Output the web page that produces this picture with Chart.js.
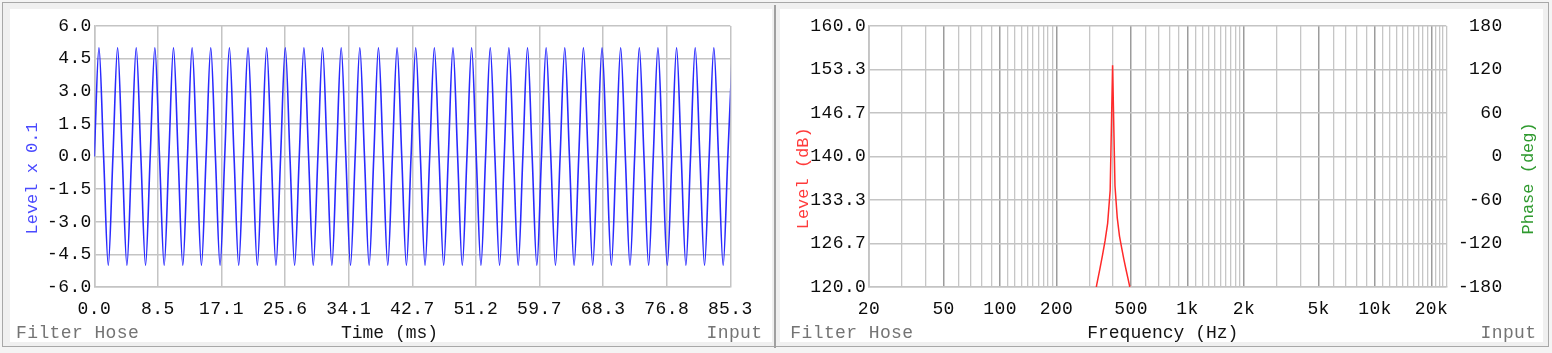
<!DOCTYPE html>
<html><head><meta charset="utf-8">
<script src="https://cdn.jsdelivr.net/npm/chart.js@4.4.1/dist/chart.umd.min.js"></script>
<style>
html,body{margin:0;padding:0;background:#f4f4f4;width:1552px;height:353px;overflow:hidden;}
#frame{position:absolute;left:2px;top:2px;width:1545px;height:343px;border:1px solid #a8a8a8;background:#f0f0f0;}
#sep{position:absolute;left:774px;top:5px;width:2px;height:343px;background:#a0a0a0;}
canvas{position:absolute;background:#fff;}
#c1{left:10px;top:9px;}
#c2{left:780px;top:9px;}
</style></head>
<body>
<div id="frame"></div><div id="sep"></div>
<canvas id="c1" width="762" height="333"></canvas>
<canvas id="c2" width="763" height="333"></canvas>
<script>
// ---------- data ----------
const timeMaxMs = 85.3333;
const timeTicks = [0, 8.5333, 17.0667, 25.6, 34.1333, 42.6667, 51.2, 59.7333, 68.2667, 76.8, 85.3333];
const levelTicks = [-6, -4.5, -3, -1.5, 0, 1.5, 3, 4.5, 6];
const sampleStepMs = 0.625;               // quarter-period spacing of read points
const waveLevel = [
  0, 5, 0, -5,  0, 5, 0, -5,  0, 5, 0, -5,  0, 5, 0, -5,
  0, 5, 0, -5,  0, 5, 0, -5,  0, 5, 0, -5,  0, 5, 0, -5,
  0, 5, 0, -5,  0, 5, 0, -5,  0, 5, 0, -5,  0, 5, 0, -5,
  0, 5, 0, -5,  0, 5, 0, -5,  0, 5, 0, -5,  0, 5, 0, -5,
  0, 5, 0, -5,  0, 5, 0, -5,  0, 5, 0, -5,  0, 5, 0, -5,
  0, 5, 0, -5,  0, 5, 0, -5,  0, 5, 0, -5,  0, 5, 0, -5,
  0, 5, 0, -5,  0, 5, 0, -5,  0, 5, 0, -5,  0, 5, 0, -5,
  0, 5, 0, -5,  0, 5, 0, -5,  0, 5, 0, -5,  0, 5, 0, -5,
  0, 5, 0, -5,  0, 5, 0, -5,
  0, 5
];

const freqTicks = [20, 50, 100, 200, 500, 1000, 2000, 5000, 10000, 20000];
const freqTickLabels = ['20', '50', '100', '200', '500', '1k', '2k', '5k', '10k', '20k'];
const freqGridRanges = [[20, 200, 10], [200, 2000, 100], [2000, 24000, 1000]];
const dbTicks = [120, 126.667, 133.333, 140, 146.667, 153.333, 160];
const phaseTicks = [-180, -120, -60, 0, 60, 120, 180];
const specFreq  = [316.4, 328.1, 339.8, 351.6, 363.3, 375.0, 386.7, 398.4, 410.2, 421.9, 433.6, 445.3, 457.0, 468.8, 480.5, 492.2, 503.9];
const specLevel = [117.8, 120.4, 122.6, 124.8, 127.1, 129.8, 134.8, 154.0, 135.5, 130.6, 127.8, 126.0, 124.3, 122.8, 121.4, 120.0, 118.8];
const phaseValues = [];

// ---------- styling ----------
const FONT = 'Liberation Mono';
const FSIZE = 18;
const tickFont = {family: FONT, size: FSIZE};
const tickColor = '#0c0c0c';

const textPlugin = {
  id: 'panelText',
  beforeDraw(chart) { chart.ctx.letterSpacing = '0.4px'; },
  afterDraw(chart, args, o) {
    const ctx = chart.ctx;
    ctx.save();
    ctx.font = `${FSIZE}px "${FONT}"`;
    ctx.textBaseline = 'middle';
    ctx.letterSpacing = '0.4px';
    ctx.fillStyle = '#747474';
    ctx.textAlign = 'left';  ctx.fillText(o.footLeft.text, o.footLeft.x, o.footY);
    ctx.textAlign = 'right'; ctx.fillText(o.footRight.text, o.footRight.x, o.footY);
    ctx.letterSpacing = '0px';
    ctx.fillStyle = '#141414';
    ctx.textAlign = 'center'; ctx.fillText(o.footCenter.text, o.footCenter.x, o.footY);
    ctx.font = `17px "${FONT}"`;
    for (const t of o.sideTitles) {
      ctx.save();
      ctx.translate(t.x, t.y);
      ctx.rotate(-Math.PI / 2);
      ctx.fillStyle = t.color;
      ctx.textAlign = 'center';
      ctx.fillText(t.text, 0, 0);
      ctx.restore();
    }
    ctx.restore();
  }
};

Chart.defaults.font.family = FONT;
Chart.defaults.font.size = FSIZE;

// ---------- time chart ----------
new Chart(document.getElementById('c1'), {
  type: 'line',
  data: {
    datasets: [{
      label: 'Input',
      data: waveLevel.map((v, i) => ({x: i * sampleStepMs, y: v})),
      borderColor: '#2a2aff',
      borderWidth: 1.6,
      pointRadius: 0,
      cubicInterpolationMode: 'monotone',
      fill: false
    }]
  },
  options: {
    responsive: false, animation: false, events: [],
    layout: {padding: {left: 0, top: 17, right: 41.7, bottom: 0}},
    plugins: {
      legend: {display: false}, tooltip: {enabled: false},
      panelText: {
        footY: 324.5,
        footLeft: {text: 'Filter Hose', x: 6},
        footRight: {text: 'Input', x: 752.5},
        footCenter: {text: 'Time (ms)', x: 379.5},
        sideTitles: [{text: 'Level x 0.1', x: 22.5, y: 169.4, color: '#4a4aff'}]
      }
    },
    scales: {
      x: {
        type: 'linear', min: 0, max: timeMaxMs,
        afterBuildTicks: s => { s.ticks = timeTicks.map(v => ({value: v})); },
        afterFit: s => { s.height = 55; },
        ticks: {padding: 11.5, color: tickColor, font: tickFont, maxRotation: 0, autoSkip: false,
                callback: v => v.toFixed(1)},
        grid: {color: '#c4c4c4', lineWidth: 1.5, drawTicks: false},
        border: {display: true, color: '#c4c4c4', width: 1.5}
      },
      y: {
        type: 'linear', min: -6, max: 6,
        afterBuildTicks: s => { s.ticks = levelTicks.map(v => ({value: v})); },
        afterFit: s => { s.width = 84.3; },
        ticks: {padding: 2.5, color: tickColor, font: tickFont, autoSkip: false,
                callback: v => v.toFixed(1)},
        grid: {color: '#c4c4c4', lineWidth: 1.5, drawTicks: false},
        border: {display: true, color: '#c4c4c4', width: 1.5}
      }
    }
  },
  plugins: [textPlugin]
});

// ---------- frequency chart ----------
const freqGrid = [];
for (const [a, b, step] of freqGridRanges) {
  for (let f = a; f < b + 1e-9; f += step) {
    if (!freqGrid.includes(f)) freqGrid.push(f);
  }
}
const labelOf = v => { const i = freqTicks.indexOf(v); return i >= 0 ? freqTickLabels[i] : ''; };

new Chart(document.getElementById('c2'), {
  type: 'line',
  data: {
    datasets: [{
      label: 'Level (dB)',
      data: specFreq.map((f, i) => ({x: f, y: specLevel[i]})),
      borderColor: '#ff2a2a', borderWidth: 1.5, pointRadius: 0, tension: 0, fill: false,
      yAxisID: 'y'
    }, {
      label: 'Phase (deg)',
      data: phaseValues,
      borderColor: '#2f9a2f', borderWidth: 1.5, pointRadius: 0, fill: false,
      yAxisID: 'y2'
    }]
  },
  options: {
    responsive: false, animation: false, events: [],
    layout: {padding: {left: 0, top: 17, right: 40.3, bottom: 0}},
    plugins: {
      legend: {display: false}, tooltip: {enabled: false},
      panelText: {
        footY: 324.5,
        footLeft: {text: 'Filter Hose', x: 10.3},
        footRight: {text: 'Input', x: 756.5},
        footCenter: {text: 'Frequency (Hz)', x: 382.8},
        sideTitles: [
          {text: 'Level (dB)', x: 23.8, y: 169.3, color: '#ff3b3b'},
          {text: 'Phase (deg)', x: 748.7, y: 169.4, color: '#2f9a2f'}
        ]
      }
    },
    scales: {
      x: {
        type: 'logarithmic', min: 20, max: 24000,
        afterBuildTicks: s => { s.ticks = freqGrid.map(v => ({value: v, major: freqTicks.includes(v)})); },
        afterFit: s => { s.height = 55; },
        ticks: {padding: 11.5, color: tickColor, font: tickFont, maxRotation: 0, autoSkip: false,
                callback: v => labelOf(v)},
        grid: {
          drawTicks: false,
          color: c => (c.tick && freqTicks.includes(c.tick.value)) ? '#9c9c9c' : '#c6c6c6',
          lineWidth: c => (c.tick && freqTicks.includes(c.tick.value)) ? 1.5 : 1.3
        },
        border: {display: true, color: '#c4c4c4', width: 1.5}
      },
      y: {
        type: 'linear', position: 'left', min: 120, max: 160,
        afterBuildTicks: s => { s.ticks = dbTicks.map(v => ({value: v})); },
        afterFit: s => { s.width = 89; },
        ticks: {padding: 2.7, color: tickColor, font: tickFont, autoSkip: false,
                callback: v => v.toFixed(1)},
        grid: {color: '#c4c4c4', lineWidth: 1.5, drawTicks: false},
        border: {display: true, color: '#c4c4c4', width: 1.5}
      },
      y2: {
        type: 'linear', position: 'right', min: -180, max: 180,
        afterBuildTicks: s => { s.ticks = phaseTicks.map(v => ({value: v})); },
        afterFit: s => { s.width = 56.4; },
        ticks: {crossAlign: 'far', color: tickColor, font: tickFont, autoSkip: false,
                callback: v => String(v)},
        grid: {display: false, drawTicks: false},
        border: {display: false}
      }
    }
  },
  plugins: [textPlugin]
});
</script>
</body></html>
